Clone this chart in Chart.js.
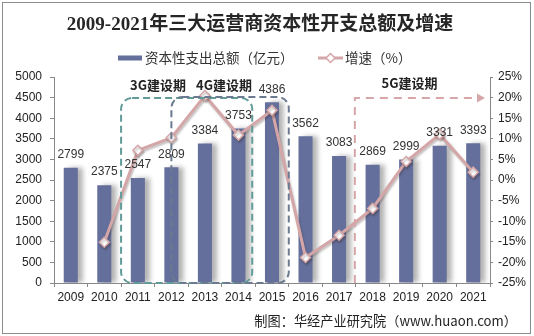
<!DOCTYPE html>
<html><head><meta charset="utf-8">
<script src="https://cdn.jsdelivr.net/npm/chart.js@4/dist/chart.umd.min.js"></script>
<style>html,body{margin:0;padding:0;background:#fff}#wrap{width:534px;height:336px;position:relative}</style>
</head><body><div id="wrap"><canvas id="c" width="534" height="336"></canvas></div>
<script>
const years = ['2009','2010','2011','2012','2013','2014','2015','2016','2017','2018','2019','2020','2021'];
const capex = [2799,2375,2547,2809,3384,3753,4386,3562,3083,2869,2999,3331,3393];
const growth = [null,-15.1,7.2,10.3,20.5,10.9,16.9,-18.8,-13.4,-6.9,4.5,11.1,1.9];
const titleText = '2009-2021年三大运营商资本性开支总额及增速';
const barLabel = '资本性支出总额（亿元）';
const lineLabel = '增速（%）';
const sourceText = '制图：华经产业研究院（www.huaon.com）';
const phaseLabels = ['3G建设期','4G建设期','5G建设期'];

const BAR = '#646f9b', PINK = '#d4a6a8', TEAL = '#619b98', SLATE = '#6b7a90', PINK2 = '#d6a6a8';
const LAT = "'Liberation Sans', Arial, 'Noto Sans CJK SC', sans-serif";
const CJK = "'Noto Sans CJK SC', 'Liberation Sans', sans-serif";

function rrect(ctx, x1, y1, x2, y2, r){
  ctx.beginPath();
  ctx.moveTo(x1 + r, y1);
  ctx.arcTo(x2, y1, x2, y2, r);
  ctx.arcTo(x2, y2, x1, y2, r);
  ctx.arcTo(x1, y2, x1, y1, r);
  ctx.arcTo(x1, y1, x2, y1, r);
  ctx.closePath();
}

const shadowPlugin = {
  id: 'shadows',
  beforeDatasetDraw(chart, args){
    const ctx = chart.ctx; ctx.save();
    if (args.index === 0){
      ctx.shadowColor = 'rgba(0,0,0,0.30)'; ctx.shadowOffsetX = 5; ctx.shadowOffsetY = 0; ctx.shadowBlur = 5;
    } else {
      ctx.shadowColor = 'rgba(60,40,40,0.30)'; ctx.shadowOffsetX = 1; ctx.shadowOffsetY = 2; ctx.shadowBlur = 2;
    }
  },
  afterDatasetDraw(chart){ chart.ctx.restore(); }
};

const decoPlugin = {
  id: 'deco',
  afterDatasetsDraw(chart){
    const ctx = chart.ctx, ca = chart.chartArea, xs = chart.scales.x;
    const px = v => xs.getPixelForValue(v);
    ctx.save();
    ctx.lineWidth = 2;
    ctx.setLineDash([7,4]); ctx.strokeStyle = TEAL;
    rrect(ctx, px(1.5), ca.top + 21, px(5.5) - 3, ca.bottom, 11); ctx.stroke();
    ctx.strokeStyle = SLATE;
    rrect(ctx, px(3), ca.top + 20, px(6.5), ca.bottom, 11); ctx.stroke();
    ctx.strokeStyle = PINK2; ctx.setLineDash([8,6]);
    const x5 = px(8.5) - 1, y5 = ca.top + 21, xe = px(12.35);
    ctx.beginPath(); ctx.moveTo(x5, ca.bottom); ctx.lineTo(x5, y5); ctx.lineTo(xe - 8, y5); ctx.stroke();
    ctx.setLineDash([]); ctx.fillStyle = PINK2;
    ctx.beginPath(); ctx.moveTo(xe, y5); ctx.lineTo(xe - 8, y5 - 4.5); ctx.lineTo(xe - 8, y5 + 4.5); ctx.closePath(); ctx.fill();
    ctx.fillStyle = '#222'; ctx.font = "bold 13px " + CJK; ctx.textAlign = 'center'; ctx.textBaseline = 'middle';
    ctx.fillText(phaseLabels[0], px(2.6), 85);
    ctx.fillText(phaseLabels[1], px(4.57), 85);
    ctx.fillText(phaseLabels[2], px(10.1), 83);
    ctx.font = "12px " + LAT; ctx.fillStyle = '#333';
    chart.getDatasetMeta(0).data.forEach((b, i) => {
      ctx.fillText(String(capex[i]), b.x, b.y - 13);
    });
    ctx.restore();
  },
  afterDraw(chart){
    const ctx = chart.ctx;
    ctx.save();
    ctx.strokeStyle = '#8c8c8c'; ctx.lineWidth = 1;
    ctx.strokeRect(2.5, 2.5, 528, 331);
    ctx.fillStyle = '#262626'; ctx.textAlign = 'center'; ctx.textBaseline = 'middle';
    ctx.font = "bold 19px 'Liberation Serif', 'Noto Sans CJK SC', serif";
    ctx.fillText(titleText, 260, 25);
    const ly = 58;
    ctx.fillStyle = BAR; ctx.fillRect(118, ly - 2.5, 24, 5);
    ctx.fillStyle = '#333'; ctx.textAlign = 'left';
    ctx.font = "13.5px " + CJK;
    ctx.fillText(barLabel, 145, ly);
    ctx.strokeStyle = PINK; ctx.lineWidth = 3;
    ctx.beginPath(); ctx.moveTo(318, ly); ctx.lineTo(343, ly); ctx.stroke();
    ctx.fillStyle = '#fff'; ctx.lineWidth = 1.5;
    ctx.beginPath(); ctx.moveTo(330.5, ly - 4.5); ctx.lineTo(335, ly); ctx.lineTo(330.5, ly + 4.5); ctx.lineTo(326, ly); ctx.closePath(); ctx.fill(); ctx.stroke();
    ctx.fillStyle = '#333';
    ctx.fillText(lineLabel, 345, ly);
    ctx.textAlign = 'right'; ctx.font = "13.2px " + CJK; ctx.fillStyle = '#222';
    ctx.fillText(sourceText, 517, 321);
    ctx.restore();
  }
};

new Chart(document.getElementById('c'), {
  data: {
    labels: years,
    datasets: [
      { type: 'bar', label: barLabel, data: capex, backgroundColor: BAR, yAxisID: 'y',
        barPercentage: 0.42, categoryPercentage: 1.0, order: 1 },
      { type: 'line', label: lineLabel, data: growth, yAxisID: 'y1', borderColor: PINK, borderWidth: 3,
        pointStyle: 'rectRot', pointRadius: 5, pointBackgroundColor: '#fff', pointBorderColor: PINK,
        pointBorderWidth: 1.5, tension: 0, order: 0, spanGaps: false }
    ]
  },
  options: {
    responsive: false, animation: false, devicePixelRatio: 1,
    layout: { padding: { top: 77, left: 0, right: 0, bottom: 0 } },
    plugins: { legend: { display: false }, title: { display: false }, tooltip: { enabled: false } },
    scales: {
      x: {
        grid: { display: true, drawOnChartArea: false, drawTicks: true, tickLength: 4, color: '#888', offset: true },
        border: { display: true, color: '#888' },
        ticks: { color: '#222', font: { size: 12, family: LAT }, padding: 3, maxRotation: 0, autoSkip: false },
        afterFit(s){ s.height = 53; }
      },
      y: {
        position: 'left', min: 0, max: 5000,
        grid: { drawOnChartArea: false, tickLength: 4, color: '#888' },
        border: { display: true, color: '#888' },
        ticks: { stepSize: 500, color: '#222', font: { size: 12, family: LAT }, padding: 8, callback: v => String(v) },
        afterFit(s){ s.width = 54; }
      },
      y1: {
        position: 'right', min: -25, max: 25,
        grid: { drawOnChartArea: false, tickLength: 3, color: '#888' },
        border: { display: true, color: '#888' },
        ticks: { stepSize: 5, color: '#222', font: { size: 12, family: LAT }, padding: 5, callback: v => v + '%' },
        afterFit(s){ s.width = 44; }
      }
    }
  },
  plugins: [shadowPlugin, decoPlugin]
});
</script></body></html>
